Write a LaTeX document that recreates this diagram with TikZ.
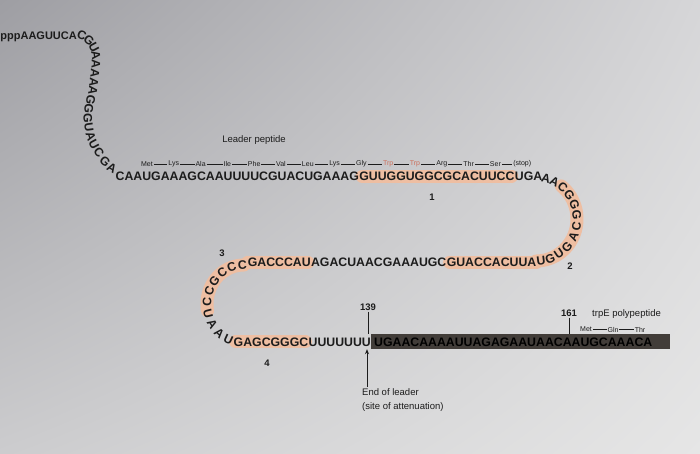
\documentclass[tikz,border=0pt]{standalone}
\usepackage{fontspec}
\setmainfont{Liberation Sans}
\usetikzlibrary{positioning}
\usetikzlibrary{arrows.meta}
\usetikzlibrary{shadings}

\definecolor{bgul}{RGB}{158,158,163}
\definecolor{bgur}{RGB}{214,214,216}
\definecolor{bgll}{RGB}{204,204,206}
\definecolor{bglr}{RGB}{230,230,230}
\definecolor{ink}{RGB}{28,28,28}
\definecolor{hlcol}{RGB}{238,190,162}
\definecolor{boxcol}{RGB}{66,61,57}
\definecolor{trpcol}{RGB}{204,112,92}

\newcommand{\seqfont}{\fontsize{12.3}{14}\selectfont\bfseries}
\newcommand{\aafont}{\fontsize{7}{8}\selectfont}
\newcommand{\labfont}{\fontsize{9.5}{11}\selectfont}

\pgfdeclarelayer{bg}
\pgfsetlayers{bg,main}

\tikzset{
  nt/.style={font=\seqfont, text=ink, inner sep=0pt, text height=8.8pt, text depth=0pt},
  hlline/.style={draw=hlcol, line width=13pt, line cap=round},
  aa/.style={font=\aafont, text=ink, inner sep=0.8pt},
  aaline/.style={draw=ink, line width=0.5pt},
  lab/.style={font=\labfont, text=ink, inner sep=1pt},
  num/.style={font=\labfont\bfseries, text=ink, inner sep=1pt},
  tick/.style={draw=ink, line width=0.7pt}
}

\begin{document}
\begin{tikzpicture}[x=1pt, y=-1pt]
	\useasboundingbox (0,0) rectangle (700,453);
	% top strand and first bend
	\node[nt, font=\fontsize{11}{13}\selectfont\bfseries, anchor=base east] (r0) at (77,39) {pppAAGUUCA};
	\foreach \ch/\x/\y/\r [count=\k] in {C/82/35/-22, G/89/40/-40, U/94/47/-62, A/96/55/-82, A/96/64/-92, A/95/73/-95, A/94/82/-96, A/93/91/-98, G/91/100/-100, G/89/109/-96, G/88/118/-90, U/89/127/-82, A/91/136/-72, U/94/144/-62, C/99/152/-52, G/105/161/-42, A/112/168/-30}
		\node[nt, rotate=\r] (la\k) at (\x,\y) {\ch};

	% row 1, leader peptide
	\node[nt, anchor=base west] (r1a) at (115.5,180.5) {CAAUGAAAGCAAUUUUCGUACUGAAAG};
	\node[nt, base right=0pt of r1a] (r1b) {GUUGGUGGCGCACUUCC};
	\node[nt, base right=0pt of r1b] (r1c) {UGA};

	% right bend
	\foreach \ch/\p [count=\k] in {A/14, A/27, C/41, G/55, G/70, G/85}
		\node[nt, rotate=-\p] (rb\k) at ({536+41*sin(\p)},{219-42*cos(\p)}) {\ch};
	\foreach \ch/\p [count=\k from 7] in {C/100, A/115, G/131, U/146, G/160, U/173}
		\node[nt, rotate=180-\p] (rb\k) at ({536+41*sin(\p)},{219-42*cos(\p)}) {\ch};

	% row 2
	\node[nt, anchor=base east] (r2c) at (536.5,266.5) {GUACCACUUA};
	\node[nt, base left=0pt of r2c] (r2b) {AGACUAACGAAAUGC};
	\node[nt, base left=0pt of r2b] (r2a) {GACCCAU};

	% left bend
	\foreach \ch/\p [count=\k] in {C/2.6, C/19.6, C/36.5, G/53.5, C/70.4, C/87.4}
		\node[nt, rotate=\p] (lb\k) at ({244-37*sin(\p)},{304-39*cos(\p)}) {\ch};
	\foreach \ch/\p [count=\k from 7] in {U/104.3, A/121.3, A/138.2, U/155.2}
		\node[nt, rotate=\p-180] (lb\k) at ({244-37*sin(\p)},{304-39*cos(\p)}) {\ch};

	% row 3 and start of trpE
	\node[nt, anchor=base east] (uu) at (371,346) {UUUUUUU};
	\node[nt, base left=0pt of uu] (r3) {GAGCGGGC};
	\node[nt, base right=0pt of uu, fill=boxcol, text=black, inner xsep=3pt, inner ysep=3pt] (box) {UGAACAAAAUUAGAGAAUAACAAUGCAAACA\hspace*{15pt}};

	% amino acids of the leader peptide
	\foreach \res/\col [count=\i from 0] in {Met/ink, Lys/ink, Ala/ink, Ile/ink, Phe/ink, Val/ink, Leu/ink, Lys/ink, Gly/ink, Trp/trpcol, Trp/trpcol, Arg/ink, Thr/ink, Ser/ink, {(stop)}/ink}
		\node[aa, text=\col] (aa\i) at ({147+26.8*\i},164) {\res};
	\foreach \i [count=\j from 1] in {0,...,13}
		\draw[aaline] (aa\i) -- (aa\j);

	% labels
	\node[lab] (leadlab) at (254,140) {Leader peptide};
	\node[num] (n1) at (432,197) {1};
	\node[num] (n2) at (570,266) {2};
	\node[num] (n3) at (222,253) {3};
	\node[num] (n4) at (267,363) {4};
	\node[num] (n139) at (368,307) {139};
	\node[num] (n161) at (569,313) {161};
	\draw[tick] (n139.south) -- (n139.south |- box.north);
	\draw[tick] (n161.south) -- (n161.south |- box.north);
	\node[lab, anchor=west] (trpelab) at (591,314) {trpE polypeptide};
	\foreach \res/\x [count=\i] in {Met/586, Gln/613, Thr/640}
		\node[aa] (ep\i) at (\x,329.5) {\res};
	\draw[aaline] (ep1) -- (ep2);
	\draw[aaline] (ep2) -- (ep3);
	\node[lab, anchor=north west, align=left, font=\fontsize{9.5}{14.5}\selectfont] (endlab) at (361,387) {End of leader\\(site of attenuation)};
	\coordinate (attnfoot) at (367,387);
	\draw[tick, -{Stealth[length=5pt, width=4pt]}] (attnfoot) -- (attnfoot |- box.south);

	% background and pairing regions
	\begin{pgfonlayer}{bg}
		\shade[upper left=bgul, upper right=bgur, lower left=bgll, lower right=bglr] (0,0) rectangle (700,453);
		\draw[hlline] ([xshift=3pt]r1b.west) -- ([xshift=-3pt]r1b.east);
		\draw[hlline] plot[smooth, domain=38:180, samples=30] ({536+41*sin(\x)},{219-42*cos(\x)});
		\draw[hlline] ([xshift=3pt]r2c.west) -- (r2c.east);
		\draw[hlline] plot[smooth, domain=0:100, samples=25] ({244-37*sin(\x)},{304-39*cos(\x)});
		\draw[hlline] (r2a.west) -- ([xshift=-3pt]r2a.east);
		\draw[hlline] ([xshift=2pt]r3.west) -- ([xshift=-3pt]r3.east);
	\end{pgfonlayer}
\end{tikzpicture}
\end{document}
